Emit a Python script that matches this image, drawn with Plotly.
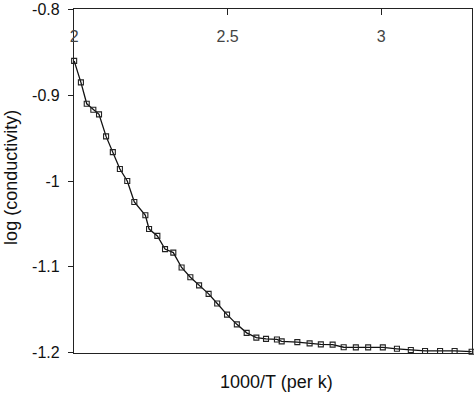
import plotly.graph_objects as go

inv_T = [2.000, 2.022, 2.041, 2.0625, 2.081, 2.104, 2.126, 2.149, 2.173, 2.196,
         2.232, 2.244, 2.271, 2.296, 2.323, 2.350, 2.3785, 2.407, 2.438, 2.466,
         2.498, 2.530, 2.562, 2.5935, 2.625, 2.6606, 2.676, 2.727, 2.767, 2.8036,
         2.842, 2.878, 2.9176, 2.9577, 3.0055, 3.0515, 3.0967, 3.143, 3.192, 3.2394,
         3.2948]
log_cond = [-0.860, -0.885, -0.910, -0.917, -0.9223, -0.948, -0.9663, -0.986, -1.000, -1.0244,
            -1.040, -1.056, -1.064, -1.0794, -1.0835, -1.1008, -1.1122, -1.1217, -1.1316, -1.1428,
            -1.1558, -1.1671, -1.177, -1.1826, -1.184, -1.1847, -1.1869, -1.1878, -1.1893, -1.1905,
            -1.1907, -1.1938, -1.194, -1.194, -1.194, -1.1956, -1.197, -1.1981, -1.1981, -1.1981,
            -1.199]

x_ticks = [2, 2.5, 3]
x_tick_text = ["2", "2.5", "3"]
y_ticks = [-0.8, -0.9, -1.0, -1.1, -1.2]
y_tick_text = ["-0.8", "-0.9", "-1", "-1.1", "-1.2"]

FONT = "Arial, Liberation Sans, sans-serif"

fig = go.Figure()
fig.add_trace(go.Scatter(
    x=inv_T, y=log_cond, mode="lines+markers",
    line=dict(color="#111111", width=1.3),
    marker=dict(symbol="square-open", size=5, color="#222222", line=dict(width=1.1, color="#222222")),
    showlegend=False, cliponaxis=False,
))

fig.update_layout(
    width=474, height=397,
    margin=dict(l=74, r=2, t=9, b=44, autoexpand=False),
    paper_bgcolor="white", plot_bgcolor="white",
    font=dict(family=FONT, color="#111111", size=16),
    xaxis=dict(
        range=[1.9995, 3.296], side="top", automargin=False,
        tickmode="array", tickvals=x_ticks, ticktext=x_tick_text,
        ticks="inside", ticklen=6, tickcolor="#222222", tickwidth=1,
        ticklabelposition="inside", ticklabelstandoff=16, ticklabeloverflow="allow",
        tickfont=dict(size=16),
        showgrid=False, zeroline=False,
        showline=True, linecolor="#222222", linewidth=1.3, mirror=True,
    ),
    yaxis=dict(
        range=[-1.2005, -0.7995], automargin=False,
        tickmode="array", tickvals=y_ticks, ticktext=y_tick_text,
        ticks="outside", ticklen=5, tickcolor="#222222", tickwidth=1,
        ticklabelstandoff=5, ticklabeloverflow="allow",
        tickfont=dict(size=16),
        showgrid=False, zeroline=False,
        showline=True, linecolor="#222222", linewidth=1.3, mirror=True,
    ),
    annotations=[
        dict(
            text="1000/T (per k)", xref="paper", yref="paper",
            x=0.51, y=-0.085, xanchor="center", yanchor="middle",
            showarrow=False, font=dict(size=18, family=FONT, color="#111111"),
        ),
        dict(
            text="log (conductivity)", xref="paper", yref="paper",
            x=-0.16, y=0.51, xanchor="center", yanchor="middle", textangle=-90,
            showarrow=False, font=dict(size=18, family=FONT, color="#111111"),
        ),
    ],
)

fig.write_html("out.html", config={"displayModeBar": False},
               post_script="document.body.style.margin='0';document.body.style.overflow='hidden';")
